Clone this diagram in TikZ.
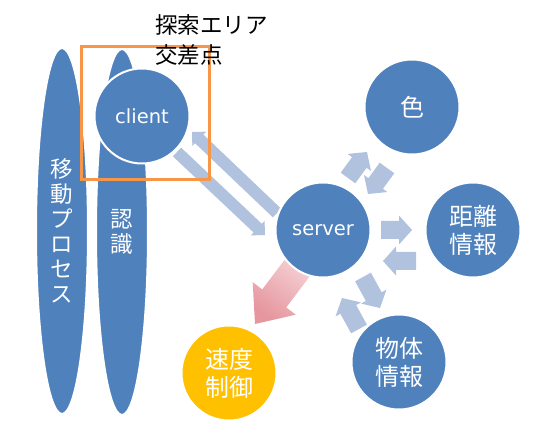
\documentclass[tikz,border=0pt]{standalone}
\usepackage{fontspec}
\setmainfont{Noto Sans CJK JP}
\newfontfamily\latinf{DejaVu Sans}
\usetikzlibrary{calc,shapes.geometric}

\definecolor{ofblue}{RGB}{79,129,189}
\definecolor{ofyellow}{RGB}{255,192,0}
\definecolor{oforange}{RGB}{247,150,70}
\definecolor{arrblue}{RGB}{176,194,222}
\definecolor{pinkdark}{RGB}{230,150,158}
\definecolor{pinklight}{RGB}{246,218,221}

% block arrow: #1 tail, #2 tip, #3 shaft half width, #4 head half width, #5 head length, #6 style
\newcommand\blockarrow[6]{%
  \coordinate (bkb) at ($(#2)!#5!(#1)$);
  \path[#6] ($(#1)!#3!90:(#2)$) -- ($(bkb)!#3!-90:(#1)$) -- ($(bkb)!#4!-90:(#1)$) -- (#2)
     -- ($(bkb)!#4!90:(#1)$) -- ($(bkb)!#3!90:(#1)$) -- ($(#1)!#3!-90:(#2)$) -- cycle;
}

\begin{document}
\begin{tikzpicture}[x=1pt,y=-1pt,
  bub/.style={circle, fill=ofblue, draw=white, line width=2pt, minimum size=95pt,
    inner sep=0pt, text=white, align=center, font=\fontsize{24}{28}\selectfont},
  lat/.style={font=\latinf\fontsize{19.5}{24}\selectfont},
  tallell/.style={ellipse, fill=ofblue, draw=white, line width=2pt, minimum width=52pt,
    minimum height=366pt, inner sep=0pt, text=white, align=center,
    font=\fontsize{22.5}{25}\selectfont},
  barr/.style={fill=arrblue},
  parr/.style={top color=pinklight, bottom color=pinkdark, shading angle=-37},
  areabox/.style={draw=oforange, line width=3pt},
  note/.style={anchor=north west, inner sep=0pt, align=left, text=black,
    font=\fontsize{22.5}{30}\selectfont}]
\useasboundingbox (0,0) rectangle (542,446);

% tall ellipses
\node[tallell] (move) at (62,231) {移\\動\\プ\\ロ\\セ\\ス};
\node[tallell] (recog) at (122,232) {認\\識};

% arrow end points
\coordinate (csA1) at (277,213);   \coordinate (csA2) at (192,132);
\coordinate (csB1) at (177,152);   \coordinate (csB2) at (265,235);
\coordinate (irA1) at (348,178);   \coordinate (irA2) at (367,152);
\coordinate (irB1) at (387,168);   \coordinate (irB2) at (368,194);
\coordinate (diA1) at (381,230);   \coordinate (diA2) at (412,230);
\coordinate (diB1) at (416,261);   \coordinate (diB2) at (383,261);
\coordinate (obA1) at (363,277);   \coordinate (obA2) at (380,308);
\coordinate (obB1) at (359,329);   \coordinate (obB2) at (342,298);
\coordinate (spA1) at (307,255);   \coordinate (spA2) at (255,324);

% arrows
\blockarrow{csA1}{csA2}{6pt}{10pt}{10pt}{barr}
\blockarrow{csB1}{csB2}{6pt}{10pt}{10pt}{barr}
\blockarrow{irA1}{irA2}{9pt}{14.5pt}{13pt}{barr}
\blockarrow{irB1}{irB2}{9pt}{14.5pt}{13pt}{barr}
\blockarrow{diA1}{diA2}{9pt}{14.5pt}{13pt}{barr}
\blockarrow{diB1}{diB2}{9pt}{14.5pt}{13pt}{barr}
\blockarrow{obA1}{obA2}{9pt}{14.5pt}{13pt}{barr}
\blockarrow{obB1}{obB2}{9pt}{14.5pt}{13pt}{barr}
\blockarrow{spA1}{spA2}{15pt}{27pt}{32pt}{parr}

% circles
\node[bub, lat] (client) at (142,116) {client};
\node[bub, lat] (server) at (323,230) {server};
\node[bub] (iro) at (412,107) {色};
\node[bub] (dist) at (473,230) {距離\\情報};
\node[bub] (obj) at (399,362) {物体\\情報};
\node[bub, fill=ofyellow] (speed) at (229,373) {速度\\制御};

% search area box and its note
\node[areabox, minimum width=128pt, minimum height=133pt, inner sep=0pt] (area) at (145,113.5) {};
\node[note] (areanote) at (155,14) {探索エリア\\交差点};
\end{tikzpicture}
\end{document}
